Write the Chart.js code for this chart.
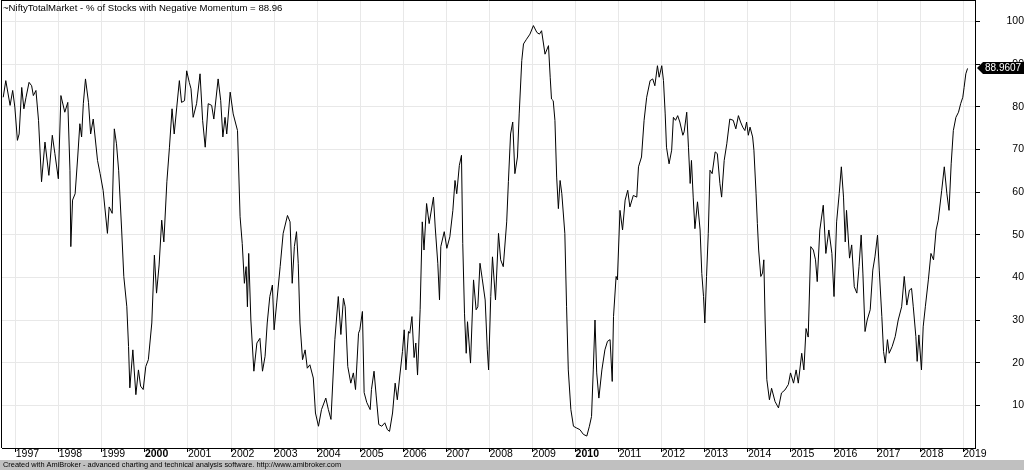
<!DOCTYPE html>
<html><head><meta charset="utf-8">
<script src="https://cdn.jsdelivr.net/npm/chart.js@4/dist/chart.umd.min.js"></script>
<style>html,body{margin:0;padding:0;background:#fff;overflow:hidden}#wrap{width:1024px;height:470px;position:relative}</style>
</head><body><div id="wrap"><canvas id="c" width="1024" height="470"></canvas></div>
<script>
const titleText = '~NiftyTotalMarket - % of Stocks with Negative Momentum = 88.96';
const lastValueLabel = '88.9607';
const footerText = 'Created with AmiBroker - advanced charting and technical analysis software. http://www.amibroker.com';
const yearTicks = [1997,1998,1999,2000,2001,2002,2003,2004,2005,2006,2007,2008,2009,2010,2011,2012,2013,2014,2015,2016,2017,2018,2019];
const valueTicks = [10,20,30,40,50,60,70,80,90,100];

const dates = [
1996.71,1996.77,1996.87,1996.93,1996.98,1997.04,1997.08,1997.14,1997.19,1997.24,
1997.31,1997.37,1997.41,1997.47,1997.53,1997.60,1997.68,1997.77,1997.85,1997.91,
1997.99,1998.05,1998.14,1998.21,1998.26,1998.28,1998.32,1998.38,1998.44,1998.49,
1998.53,1998.57,1998.62,1998.69,1998.74,1998.80,1998.90,1998.96,1999.03,1999.13,
1999.17,1999.24,1999.29,1999.34,1999.39,1999.46,1999.51,1999.58,1999.62,1999.65,
1999.72,1999.79,1999.85,1999.90,1999.96,2000.02,2000.08,2000.16,2000.22,2000.27,
2000.33,2000.39,2000.44,2000.51,2000.57,2000.63,2000.68,2000.74,2000.80,2000.85,
2000.92,2000.97,2001.03,2001.07,2001.12,2001.20,2001.28,2001.34,2001.40,2001.47,
2001.55,2001.60,2001.70,2001.76,2001.81,2001.86,2001.90,2001.98,2002.05,2002.15,
2002.21,2002.26,2002.31,2002.35,2002.38,2002.41,2002.46,2002.53,2002.60,2002.67,
2002.73,2002.79,2002.84,2002.90,2002.96,2003.00,2003.06,2003.14,2003.21,2003.31,
2003.37,2003.42,2003.47,2003.52,2003.56,2003.60,2003.66,2003.72,2003.77,2003.83,
2003.91,2003.96,2004.03,2004.10,2004.20,2004.26,2004.32,2004.41,2004.49,2004.55,
2004.61,2004.65,2004.71,2004.78,2004.84,2004.89,2004.96,2004.99,2005.05,2005.09,
2005.15,2005.23,2005.26,2005.32,2005.37,2005.43,2005.50,2005.57,2005.63,2005.68,
2005.75,2005.81,2005.86,2005.92,2005.98,2006.02,2006.06,2006.12,2006.15,2006.20,
2006.25,2006.29,2006.33,2006.39,2006.44,2006.48,2006.54,2006.60,2006.70,2006.74,
2006.80,2006.84,2006.87,2006.95,2007.01,2007.08,2007.15,2007.20,2007.24,2007.30,
2007.35,2007.38,2007.42,2007.46,2007.49,2007.56,2007.63,2007.69,2007.73,2007.78,
2007.83,2007.90,2007.95,2007.98,2008.03,2008.07,2008.14,2008.21,2008.26,
2008.32,2008.40,2008.44,2008.49,2008.54,2008.59,2008.65,2008.69,2008.75,2008.79,
2008.86,2008.94,2009.02,2009.10,2009.16,2009.21,2009.29,2009.37,2009.41,2009.44,
2009.48,2009.52,2009.56,2009.60,2009.64,2009.68,2009.75,2009.79,2009.83,2009.89,
2009.95,2010.02,2010.10,2010.18,2010.26,2010.32,2010.37,2010.41,2010.45,2010.49,
2010.54,2010.61,2010.68,2010.74,2010.80,2010.85,2010.88,2010.94,2010.97,2011.03,
2011.09,2011.15,2011.21,2011.26,2011.34,2011.42,2011.46,2011.53,2011.59,2011.65,
2011.73,2011.79,2011.84,2011.90,2011.94,2012.00,2012.04,2012.08,2012.11,2012.17,
2012.23,2012.27,2012.32,2012.37,2012.42,2012.49,2012.52,2012.58,2012.62,2012.66,
2012.69,2012.73,2012.77,2012.83,2012.89,2012.93,2012.97,2013.00,2013.04,2013.08,
2013.12,2013.17,2013.24,2013.29,2013.35,2013.39,2013.45,2013.51,2013.58,2013.66,
2013.72,2013.78,2013.83,
2013.88,2013.93,2013.97,2014.01,2014.05,2014.11,2014.14,2014.19,2014.22,2014.25,
2014.30,2014.34,2014.37,2014.40,2014.44,2014.50,2014.55,2014.63,2014.71,2014.78,
2014.86,2014.94,2014.99,2015.06,2015.12,2015.17,2015.25,2015.30,2015.35,2015.40,
2015.46,2015.52,2015.57,2015.61,2015.67,2015.75,2015.81,2015.88,2015.95,2016.00,
2016.06,2016.12,2016.17,2016.22,2016.26,2016.29,2016.36,2016.41,2016.47,2016.53,
2016.58,2016.63,2016.67,2016.72,2016.77,2016.84,2016.90,2016.95,2017.01,2017.05,
2017.11,2017.15,2017.19,2017.24,2017.28,2017.35,2017.42,2017.49,2017.57,2017.63,
2017.69,2017.75,2017.80,2017.84,2017.90,2017.93,2017.97,2018.03,2018.07,2018.12,
2018.19,2018.25,2018.31,2018.37,2018.42,2018.50,2018.56,2018.62,2018.67,2018.72,
2018.77,2018.83,2018.89,2018.94,2018.99,2019.02,2019.06,2019.10
];

const negMomentumPct = [
82.2,86.1,80.3,83.8,79.9,72.1,73.6,84.5,79.5,82.2,
85.7,84.9,82.6,83.8,76.8,62.4,71.7,63.9,73.3,69.0,
63.1,82.6,78.7,81.0,65.1,47.2,58.1,59.6,68.2,76.0,
72.9,80.7,86.5,81.0,73.6,77.1,67.4,64.3,60.4,50.3,
56.5,55.0,74.8,71.3,65.1,51.1,40.2,33.1,23.8,14.1,
23.0,12.5,18.3,14.5,13.7,19.1,20.7,29.3,45.2,36.3,
42.9,53.4,48.3,62.4,70.5,79.5,73.6,79.9,86.1,81.0,
81.4,88.4,85.7,84.2,77.5,80.7,87.7,76.8,70.5,80.7,
80.3,77.1,86.5,81.4,72.9,77.5,73.6,83.4,78.3,74.4,
54.2,47.9,38.6,42.5,33.1,45.6,30.0,18.0,24.6,25.7,
18.0,21.5,29.3,35.5,38.2,27.7,34.0,42.5,50.3,54.5,
53.0,38.6,47.2,50.7,43.3,29.3,20.7,23.0,18.7,19.5,
16.4,8.2,5.1,9.0,11.7,9.0,6.7,25.4,35.5,26.6,
35.1,33.1,19.1,15.2,17.6,13.7,26.9,27.7,32.0,13.0,
10.7,9.0,13.7,18.0,12.2,5.5,5.1,5.9,4.3,3.9,
8.2,15.2,11.3,17.1,22.6,27.7,18.3,27.3,26.9,30.8,
21.2,24.6,17.1,32.4,53.0,46.4,57.3,52.6,58.8,51.8,
43.3,34.7,47.2,50.7,46.8,49.5,55.7,62.7,59.6,66.2,
68.6,47.9,31.6,22.2,29.6,19.9,39.4,32.4,33.1,43.3,
39.8,34.7,23.0,18.3,35.5,44.8,34.7,50.3,44.1,
42.5,53.0,62.5,73.6,76.4,64.3,68.2,78.3,90.8,94.7,
95.8,97.0,99.0,97.4,97.0,97.8,92.3,94.3,86.9,81.8,
81.4,76.8,63.5,56.1,62.7,59.6,50.3,33.1,18.3,9.0,
5.1,4.7,4.3,3.2,2.8,5.1,7.4,18.3,30.0,17.6,
11.7,18.3,23.0,25.0,25.4,15.6,30.8,40.2,39.4,55.7,
51.1,58.1,60.4,56.5,59.2,58.8,65.9,68.2,76.8,82.2,
86.1,86.5,84.9,89.6,86.9,89.6,86.1,78.3,70.5,66.6,
69.8,77.5,76.8,77.9,76.4,73.3,74.1,78.7,70.5,62.0,
67.4,58.8,51.4,57.7,51.1,40.9,35.5,29.3,40.2,50.3,
65.1,64.3,69.4,69.0,62.0,58.8,67.4,71.3,77.1,76.8,
74.8,77.9,76.4,
75.2,74.4,76.4,73.3,75.2,72.9,69.8,59.6,52.6,46.4,
40.2,41.0,44.1,30.0,16.0,11.3,14.0,10.9,9.4,12.9,
13.6,14.9,17.6,15.2,18.3,15.2,22.2,18.3,28.0,26.0,
47.2,46.4,44.1,39.0,51.1,56.9,45.6,51.1,45.6,35.5,
53.0,59.6,65.9,58.8,48.3,55.7,44.5,47.6,37.8,36.3,
42.5,49.9,41.0,27.3,30.0,32.4,41.7,44.8,49.9,41.7,
30.8,22.6,19.9,25.4,22.2,23.8,26.1,30.0,33.1,40.2,
33.5,37.0,37.4,33.1,26.1,20.3,26.5,18.3,28.4,33.1,
39.4,45.6,44.1,51.1,53.4,60.4,65.9,59.6,55.7,66.6,
74.4,77.5,78.7,80.7,82.2,84.5,87.7,88.96
];

const FONT = '"Liberation Sans", Arial, sans-serif';
const points = dates.map((d, i) => ({x: d, y: negMomentumPct[i]}));

const decorPlugin = {
  id: 'decor',
  beforeDraw(chart) {
    const ctx = chart.ctx;
    ctx.save();
    ctx.fillStyle = '#fff';
    ctx.fillRect(0, 0, chart.width, chart.height);
    ctx.restore();
  },
  afterDraw(chart) {
    const ctx = chart.ctx;
    const area = chart.chartArea;
    ctx.save();
    // frame lines (left and top)
    ctx.strokeStyle = '#000';
    ctx.lineWidth = 1;
    ctx.beginPath();
    ctx.moveTo(area.left - 0.5, area.top);
    ctx.lineTo(area.left - 0.5, area.bottom);
    ctx.moveTo(area.left, area.top + 0.5);
    ctx.lineTo(area.right, area.top + 0.5);
    ctx.stroke();
    // title
    ctx.fillStyle = '#000';
    ctx.font = '9.6px ' + FONT;
    ctx.textBaseline = 'alphabetic';
    ctx.textAlign = 'left';
    ctx.fillText(titleText, 3, 11);
    // footer bar
    ctx.fillStyle = '#c0c0c0';
    ctx.fillRect(0, 460, chart.width, chart.height - 460);
    ctx.fillStyle = '#000';
    ctx.font = '7.4px ' + FONT;
    ctx.fillText(footerText, 3, 467);
    // last value marker
    const yS = chart.scales.y;
    const yy = Math.round(yS.getPixelForValue(negMomentumPct[negMomentumPct.length - 1]));
    ctx.fillStyle = '#000';
    ctx.beginPath();
    ctx.moveTo(area.right + 2, yy);
    ctx.lineTo(area.right + 8, yy - 6);
    ctx.lineTo(chart.width, yy - 6);
    ctx.lineTo(chart.width, yy + 6);
    ctx.lineTo(area.right + 8, yy + 6);
    ctx.closePath();
    ctx.fill();
    ctx.fillStyle = '#fff';
    ctx.font = '10px ' + FONT;
    ctx.textAlign = 'left';
    ctx.textBaseline = 'middle';
    ctx.fillText(lastValueLabel, area.right + 10, yy + 0.5);
    ctx.restore();
  }
};

new Chart(document.getElementById('c'), {
  type: 'line',
  data: { datasets: [{
    data: points,
    borderColor: '#000',
    borderWidth: 1,
    pointRadius: 0,
    tension: 0,
    fill: false
  }]},
  options: {
    responsive: false,
    animation: false,
    devicePixelRatio: 1,
    layout: { padding: { left: 2, top: 0, right: 0, bottom: 0 } },
    plugins: { legend: { display: false }, tooltip: { enabled: false }, title: { display: false } },
    scales: {
      x: {
        type: 'linear',
        position: 'bottom',
        min: 1996.682,
        max: 2019.273,
        afterBuildTicks: (s) => { s.ticks = yearTicks.map(v => ({value: v})); },
        afterFit: (s) => { s.height = 22; s.paddingLeft = 0; s.paddingRight = 0; },
        grid: { color: '#e8e8e8', lineWidth: 1, tickLength: 4, tickColor: '#000' },
        border: { color: '#000', width: 1 },
        ticks: {
          autoSkip: false, maxRotation: 0, minRotation: 0,
          align: 'start', padding: -4, color: '#000',
          callback: (v) => String(v),
          font: (c) => ({ family: FONT, size: 10.5, weight: (c.tick && c.tick.value % 10 === 0) ? 'bold' : 'normal' })
        }
      },
      y: {
        type: 'linear',
        position: 'right',
        min: 0,
        max: 105,
        afterBuildTicks: (s) => { s.ticks = valueTicks.map(v => ({value: v})); },
        afterFit: (s) => { s.width = 49; s.paddingTop = 0; s.paddingBottom = 0; },
        grid: { color: '#e8e8e8', lineWidth: 1, tickLength: 5, tickColor: '#000' },
        border: { color: '#000', width: 1 },
        ticks: {
          crossAlign: 'far', padding: 24, color: '#000',
          callback: (v) => String(v),
          font: { family: FONT, size: 10.5 }
        }
      }
    }
  },
  plugins: [decorPlugin]
});
</script>
</body></html>
